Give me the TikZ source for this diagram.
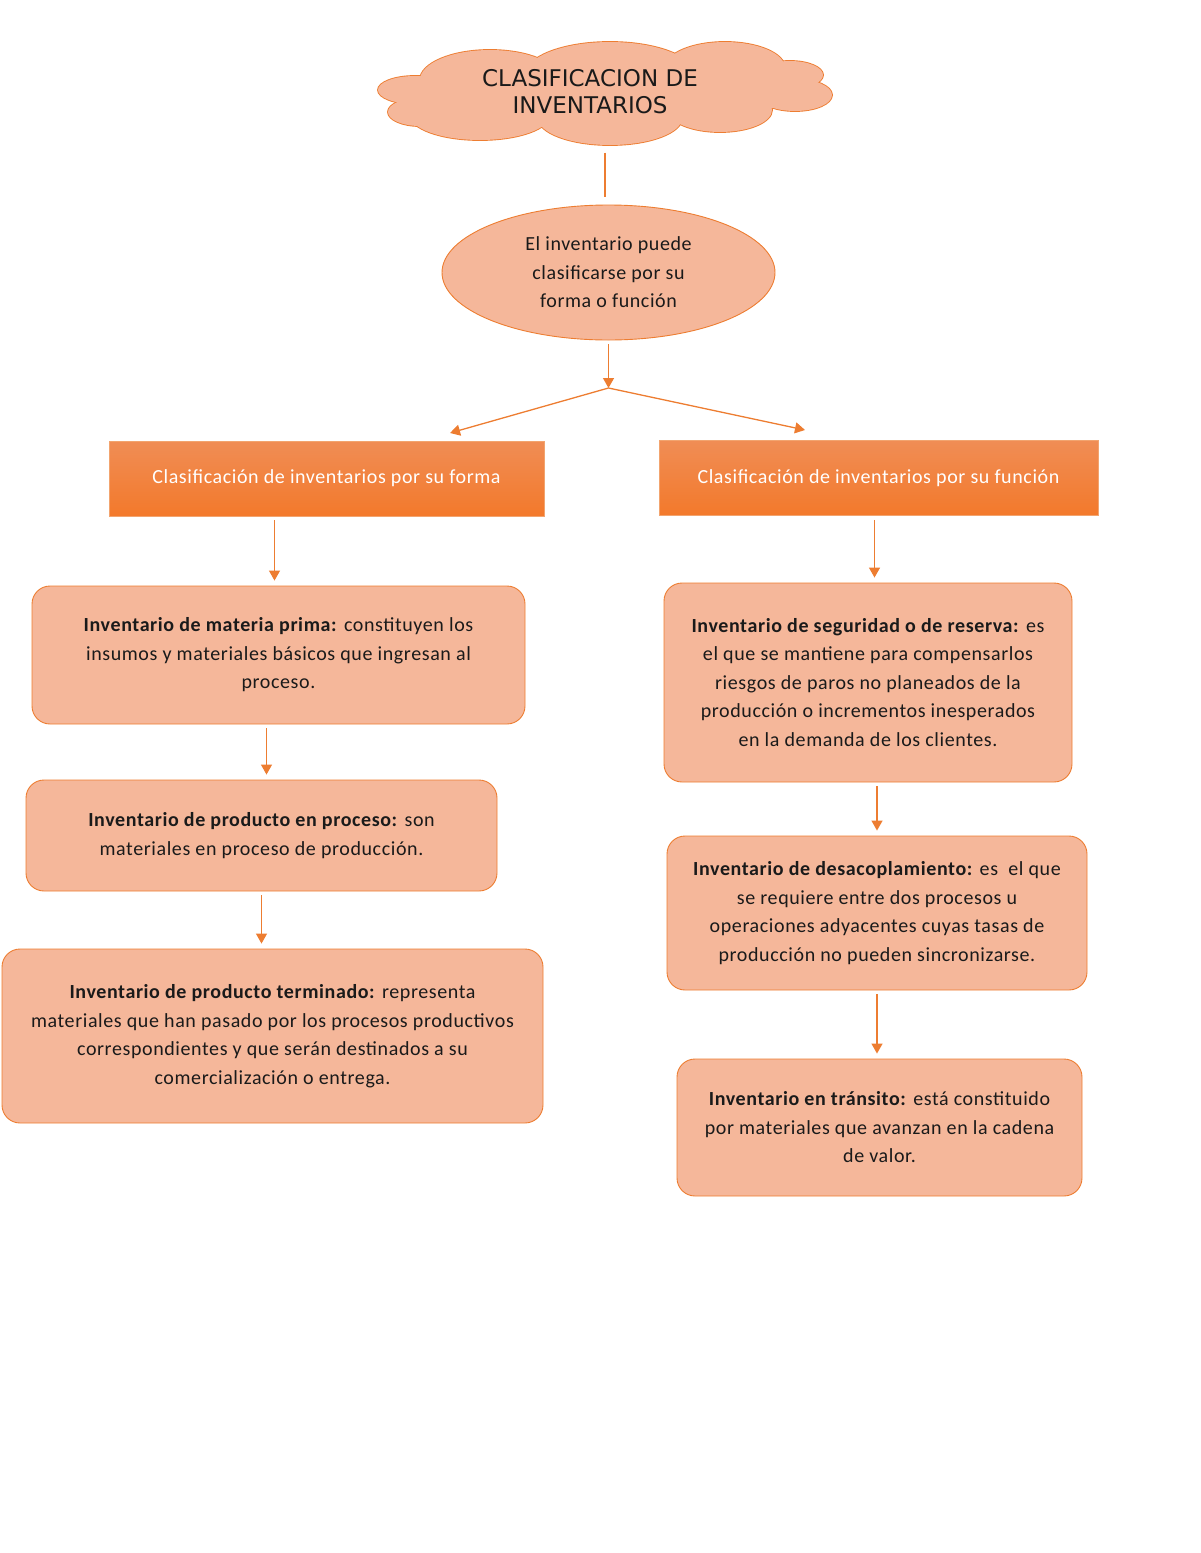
\documentclass[tikz,border=0pt]{standalone}
\usepackage{fontspec}
\setmainfont{Carlito}[LetterSpace=3]
\newfontfamily\titlefont{DejaVu Sans}
\usetikzlibrary{arrows.meta,shapes.geometric,positioning}
\definecolor{naranja}{HTML}{ED7D31}
\definecolor{salmon}{HTML}{F5B79A}
\definecolor{naranjaA}{HTML}{F08D55}
\definecolor{naranjaB}{HTML}{F3792B}
\definecolor{texto}{HTML}{1A1A1A}
\tikzset{
  >={Triangle[width=11pt,length=10pt]},
  mapa/.style={font=\fontsize{20}{28.5}\selectfont, text=texto},
  titulotexto/.style={align=center, font=\titlefont\fontsize{23}{27}\selectfont},
  elipse/.style={
    ellipse, minimum width=333pt, minimum height=135pt,
    draw=naranja, line width=0.9pt, fill=salmon, align=center
  },
  tipo/.style={
    rectangle, minimum height=75pt, draw=naranja!70, line width=0.6pt,
    top color=naranjaA, bottom color=naranjaB, text=white, align=center
  },
  caja/.style={
    rectangle, rounded corners=18pt, draw=naranja, line width=0.9pt,
    fill=salmon, align=center
  },
  linea/.style={draw=naranja, line width=1.3pt},
  flecha/.style={linea, ->, shorten <=4pt, shorten >=5pt}
}
% puffs of the cloud: x/y/rx/ry
\newcommand\puffs{415/90/37/14, 420/112/32/14, 490/80/70/30, 610/75/85/33,
  725/68/60/26, 790/75/33/14, 795/95/37/16, 720/110/52/22, 610/118/72/27,
  480/115/70/25, 610/95/180/30}
\begin{document}
\begin{tikzpicture}[mapa, x=1pt, y=-1pt]
\useasboundingbox (0,0) rectangle (1200,1553);
% 1 : Titulo (nube)
\foreach \x/\y/\rx/\ry in \puffs
  \draw[naranja, line width=1.8pt] (\x,\y) ellipse[x radius=\rx, y radius=\ry];
\foreach \x/\y/\rx/\ry in \puffs
  \fill[salmon] (\x,\y) ellipse[x radius=\rx, y radius=\ry];
\node[titulotexto, minimum width=454pt, minimum height=105pt] (titulo) at (590,92) {CLASIFICACION DE\\INVENTARIOS};

% 2 : Pregunta
\node[elipse] (forma) at (608.5,272.5) {El inventario puede\\clasificarse por su\\forma o función};
\draw[linea, shorten <=8pt, shorten >=8pt] ([xshift=15pt]titulo.south) -- ([xshift=15pt]titulo.south |- forma.north);

% 3 : Tipos
\node[tipo, minimum width=435pt] (porforma) at (326.5,478.5) {Clasificación de inventarios por su forma};
\node[tipo, minimum width=439pt] (porfuncion) at (878.5,478) {Clasificación de inventarios por su función};
\coordinate (split) at (608.5,388);
\coordinate (izq) at (450,433);
\coordinate (der) at (805,430);
\draw[flecha, shorten >=0pt] (forma.south) -- (split);
\draw[linea, ->] (split) -- (izq);
\draw[linea, ->] (split) -- (der);

% 4 : Por su forma
\node[caja, minimum width=493pt, minimum height=138pt] (prima) at (278.5,655)
  {\textbf{Inventario de materia prima:} constituyen los\\insumos y materiales básicos que ingresan al\\proceso.};
\draw[flecha] ([xshift=-4pt]prima.north |- porforma.south) -- ([xshift=-4pt]prima.north);

\node[caja, minimum width=471pt, minimum height=111pt] (proceso) at (261.5,835.5)
  {\textbf{Inventario de producto en proceso:} son\\materiales en proceso de producción.};
\draw[flecha] ([xshift=5pt]proceso.north |- prima.south) -- ([xshift=5pt]proceso.north);

\node[caja, minimum width=541pt, minimum height=174pt] (terminado) at (272.5,1036)
  {\textbf{Inventario de producto terminado:} representa\\materiales que han pasado por los procesos productivos\\correspondientes y que serán destinados a su\\comercialización o entrega.};
\draw[flecha] (proceso.south) -- (proceso.south |- terminado.north);

% 5 : Por su funcion
\node[caja, minimum width=408pt, minimum height=199pt] (seguridad) at (868,682.5)
  {\textbf{Inventario de seguridad o de reserva:} es\\el que se mantiene para compensarlos\\riesgos de paros no planeados de la\\producción o incrementos inesperados\\en la demanda de los clientes.};
\draw[flecha] ([xshift=-4pt]porfuncion.south) -- ([xshift=-4pt]porfuncion.south |- seguridad.north);

\node[caja, minimum width=420pt, minimum height=154pt] (desacople) at (877,913)
  {\textbf{Inventario de desacoplamiento:} es~ el que\\se requiere entre dos procesos u\\operaciones adyacentes cuyas tasas de\\producción no pueden sincronizarse.};
\draw[flecha] (desacople.north |- seguridad.south) -- (desacople.north);

\node[caja, minimum width=405pt, minimum height=137pt] (transito) at (879.5,1127.5)
  {\textbf{Inventario en tránsito:} está constituido\\por materiales que avanzan en la cadena\\de valor.};
\draw[flecha] (desacople.south) -- (desacople.south |- transito.north);

\end{tikzpicture}
\end{document}
